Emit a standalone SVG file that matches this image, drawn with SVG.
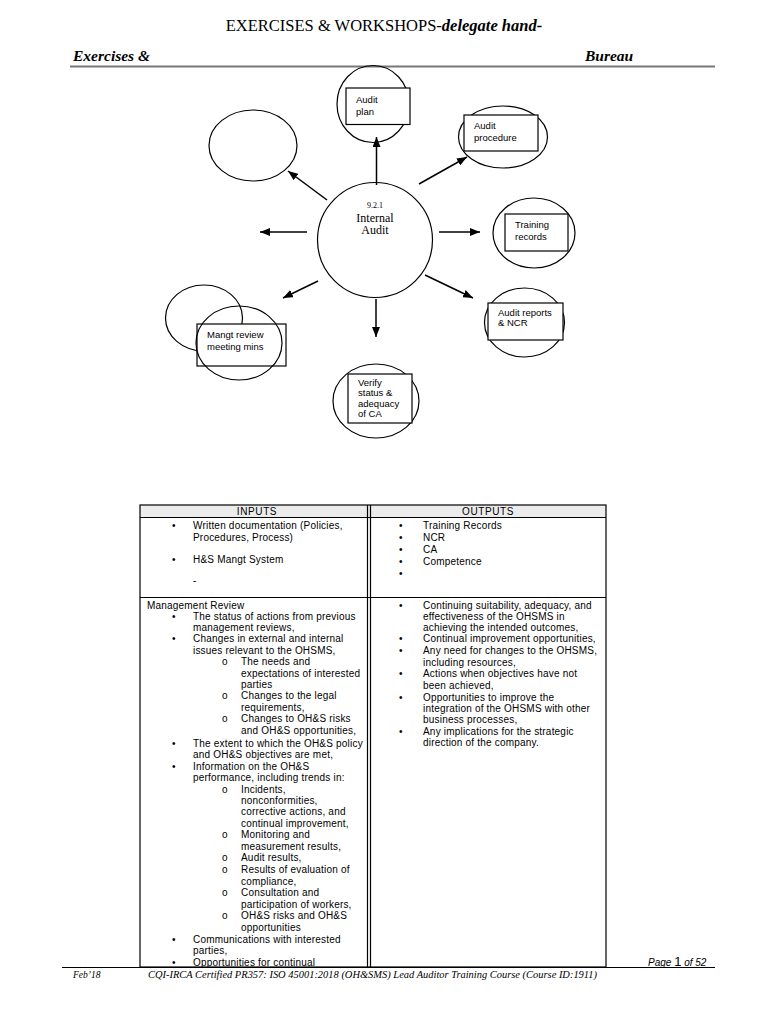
<svg xmlns="http://www.w3.org/2000/svg" width="768" height="1024" viewBox="0 0 768 1024">
<style>
.ln{fill:none;stroke:#000;stroke-width:1.2}
.bx{fill:#fff;stroke:#000;stroke-width:1.2}
.nt{font-family:"Liberation Sans",Arial,sans-serif;font-size:9.5px;fill:#000}
.tt{font-family:"Liberation Sans",Arial,sans-serif;font-size:10px;letter-spacing:0.2px;fill:#000}
.th{font-family:"Liberation Sans",Arial,sans-serif;font-size:10px;letter-spacing:0.6px;fill:#000;text-anchor:middle}
.sf{font-family:"Liberation Serif","Times New Roman",serif;fill:#000}
.ar{stroke:#000;stroke-width:1.5;fill:none;marker-end:url(#ah)}
.tl{stroke:#000;stroke-width:1.2;fill:none}
</style>
<defs>
<marker id="ah" markerUnits="userSpaceOnUse" markerWidth="10" markerHeight="8" refX="10" refY="4" orient="auto">
<path d="M0,0 L10,4 L0,8 z" fill="#000"/>
</marker>
</defs>
<rect width="768" height="1024" fill="#fff"/>

<!-- header -->
<text class="sf" x="384" y="31" text-anchor="middle" font-size="16.5">EXERCISES &amp; WORKSHOPS-<tspan font-weight="bold" font-style="italic">delegate hand-</tspan></text>
<text class="sf" x="73" y="61" font-size="15.5" font-weight="bold" font-style="italic">Exercises &amp;</text>
<text class="sf" x="585" y="61" font-size="15.5" font-weight="bold" font-style="italic">Bureau</text>
<line x1="70" y1="66.5" x2="715" y2="66.5" stroke="#777" stroke-width="1.8"/>

<!-- connectors -->
<g id="connectors">
<line class="ar" x1="376.5" y1="185" x2="376.5" y2="137"/>
<line class="ar" x1="327" y1="200" x2="288" y2="171"/>
<line class="ar" x1="419" y1="184" x2="467" y2="157"/>
<line class="ar" x1="307" y1="232" x2="260" y2="232"/>
<line class="ar" x1="439" y1="232" x2="480" y2="232"/>
<line class="ar" x1="318" y1="281" x2="283" y2="298"/>
<line class="ar" x1="376" y1="299" x2="376" y2="337"/>
<line class="ar" x1="425" y1="275" x2="473" y2="298"/>
</g>

<g id="internal-audit">
<circle class="ln" cx="375" cy="240" r="57.5"/>
<text class="sf" x="375" y="208" text-anchor="middle" font-size="8">9.2.1</text>
<text class="sf" x="375" y="222" text-anchor="middle" font-size="12">Internal</text>
<text class="sf" x="375" y="234" text-anchor="middle" font-size="12">Audit</text>
</g>

<g id="audit-plan">
<ellipse class="ln" cx="373" cy="104" rx="36" ry="38.5"/>
<rect class="bx" x="346" y="88" width="64" height="36.5"/>
<text class="nt" x="356" y="102.5">Audit</text>
<text class="nt" x="356" y="114.5">plan</text>
</g>

<g id="empty-node">
<ellipse class="ln" cx="253" cy="145.5" rx="44" ry="35.5"/>
</g>

<g id="audit-procedure">
<ellipse class="ln" cx="503" cy="137" rx="44.5" ry="31"/>
<rect class="bx" x="464" y="115" width="74" height="36"/>
<text class="nt" x="474" y="128.5">Audit</text>
<text class="nt" x="474" y="140.5">procedure</text>
</g>

<g id="training-records">
<ellipse class="ln" cx="534" cy="233" rx="41" ry="35"/>
<rect class="bx" x="505" y="214" width="63" height="37"/>
<text class="nt" x="515" y="227.5">Training</text>
<text class="nt" x="515" y="239.5">records</text>
</g>

<g id="audit-reports">
<ellipse class="ln" cx="524.5" cy="322.5" rx="40" ry="34.5"/>
<rect class="bx" x="488" y="303" width="75" height="37"/>
<text class="nt" x="498" y="316" font-size="9">Audit reports</text>
<text class="nt" x="498" y="325.5" font-size="9">&amp; NCR</text>
</g>

<g id="verify-ca">
<ellipse class="ln" cx="376" cy="401" rx="43" ry="37"/>
<rect class="bx" x="348" y="374" width="64" height="49"/>
<text class="nt" x="358" y="386" font-size="9">Verify</text>
<text class="nt" x="358" y="396" font-size="9">status &amp;</text>
<text class="nt" x="358" y="406.5" font-size="9">adequacy</text>
<text class="nt" x="358" y="416.5" font-size="9">of CA</text>
</g>

<g id="mangt-review">
<ellipse class="ln" cx="204" cy="318" rx="38.5" ry="33"/>
<rect class="bx" x="197" y="324" width="89" height="42"/>
<ellipse class="ln" cx="239" cy="343" rx="43" ry="37"/>
<text class="nt" x="207" y="337.5" font-size="10">Mangt review</text>
<text class="nt" x="207" y="349.5" font-size="10">meeting mins</text>
</g>

<!-- table -->
<g id="table">
<rect x="140" y="505" width="466" height="12" fill="#ececec"/>
<rect x="140" y="505" width="466" height="462" fill="none" stroke="#000" stroke-width="1.2"/>
<line class="tl" x1="140" y1="517.5" x2="606" y2="517.5"/>
<line class="tl" x1="140" y1="597.5" x2="606" y2="597.5"/>
<line class="tl" x1="367.5" y1="505" x2="367.5" y2="967"/>
<line class="tl" x1="370.5" y1="505" x2="370.5" y2="967"/>
<text class="th" x="257" y="515">INPUTS</text>
<text class="th" x="488" y="515">OUTPUTS</text>

<g class="tt">
<text x="172" y="528.5">•</text><text x="193" y="528.5">Written documentation (Policies,</text>
<text x="193" y="540.5">Procedures, Process)</text>
<text x="172" y="562.5">•</text><text x="193" y="562.5">H&amp;S Mangt System</text>
<text x="193" y="584">-</text>

<text x="399" y="528.5">•</text><text x="423" y="528.5">Training Records</text>
<text x="399" y="540.5">•</text><text x="423" y="540.5">NCR</text>
<text x="399" y="552.5">•</text><text x="423" y="552.5">CA</text>
<text x="399" y="564.5">•</text><text x="423" y="564.5">Competence</text>
<text x="399" y="576.5">•</text>

<text x="147" y="608.5">Management Review</text>
<text x="172" y="620">•</text><text x="193" y="620">The status of actions from previous</text>
<text x="193" y="631">management reviews,</text>
<text x="172" y="642">•</text><text x="193" y="642">Changes in external and internal</text>
<text x="193" y="654">issues relevant to the OHSMS,</text>
<text x="222" y="665">o</text><text x="241" y="665">The needs and</text>
<text x="241" y="677">expectations of interested</text>
<text x="241" y="688">parties</text>
<text x="222" y="699">o</text><text x="241" y="699">Changes to the legal</text>
<text x="241" y="711">requirements,</text>
<text x="222" y="722">o</text><text x="241" y="722">Changes to OH&amp;S risks</text>
<text x="241" y="734">and OH&amp;S opportunities,</text>
<text x="172" y="747">•</text><text x="193" y="747">The extent to which the OH&amp;S policy</text>
<text x="193" y="758">and OH&amp;S objectives are met,</text>
<text x="172" y="770">•</text><text x="193" y="770">Information on the OH&amp;S</text>
<text x="193" y="781">performance, including trends in:</text>
<text x="222" y="793">o</text><text x="241" y="793">Incidents,</text>
<text x="241" y="804">nonconformities,</text>
<text x="241" y="815">corrective actions, and</text>
<text x="241" y="827">continual improvement,</text>
<text x="222" y="838">o</text><text x="241" y="838">Monitoring and</text>
<text x="241" y="850">measurement results,</text>
<text x="222" y="861">o</text><text x="241" y="861">Audit results,</text>
<text x="222" y="873">o</text><text x="241" y="873">Results of evaluation of</text>
<text x="241" y="885">compliance,</text>
<text x="222" y="896">o</text><text x="241" y="896">Consultation and</text>
<text x="241" y="908">participation of workers,</text>
<text x="222" y="919">o</text><text x="241" y="919">OH&amp;S risks and OH&amp;S</text>
<text x="241" y="931">opportunities</text>
<text x="172" y="943">•</text><text x="193" y="943">Communications with interested</text>
<text x="193" y="954">parties,</text>
<text x="172" y="966">•</text><text x="193" y="966">Opportunities for continual</text>

<text x="399" y="608.5">•</text><text x="423" y="608.5">Continuing suitability, adequacy, and</text>
<text x="423" y="620">effectiveness of the OHSMS in</text>
<text x="423" y="631">achieving the intended outcomes,</text>
<text x="399" y="642">•</text><text x="423" y="642">Continual improvement opportunities,</text>
<text x="399" y="654">•</text><text x="423" y="654">Any need for changes to the OHSMS,</text>
<text x="423" y="666">including resources,</text>
<text x="399" y="677">•</text><text x="423" y="677">Actions when objectives have not</text>
<text x="423" y="689">been achieved,</text>
<text x="399" y="701">•</text><text x="423" y="701">Opportunities to improve the</text>
<text x="423" y="712">integration of the OHSMS with other</text>
<text x="423" y="723">business processes,</text>
<text x="399" y="735">•</text><text x="423" y="735">Any implications for the strategic</text>
<text x="423" y="746">direction of the company.</text>
</g>
</g>

<!-- footer -->
<line x1="62" y1="967.5" x2="715" y2="967.5" stroke="#000" stroke-width="1.2"/>
<text class="sf" x="73" y="978" font-size="9.5" font-style="italic">Feb’18</text>
<text class="sf" x="148" y="978" font-size="9.5" font-style="italic" textLength="449" lengthAdjust="spacingAndGlyphs">CQI-IRCA Certified PR357: ISO 45001:2018 (OH&amp;SMS) Lead Auditor Training Course (Course ID:1911)</text>
<text x="648" y="966" font-family="'Liberation Sans',Arial,sans-serif" font-size="10" font-style="italic" fill="#000">Page <tspan font-size="13" font-style="normal">1</tspan> of 52</text>
</svg>
